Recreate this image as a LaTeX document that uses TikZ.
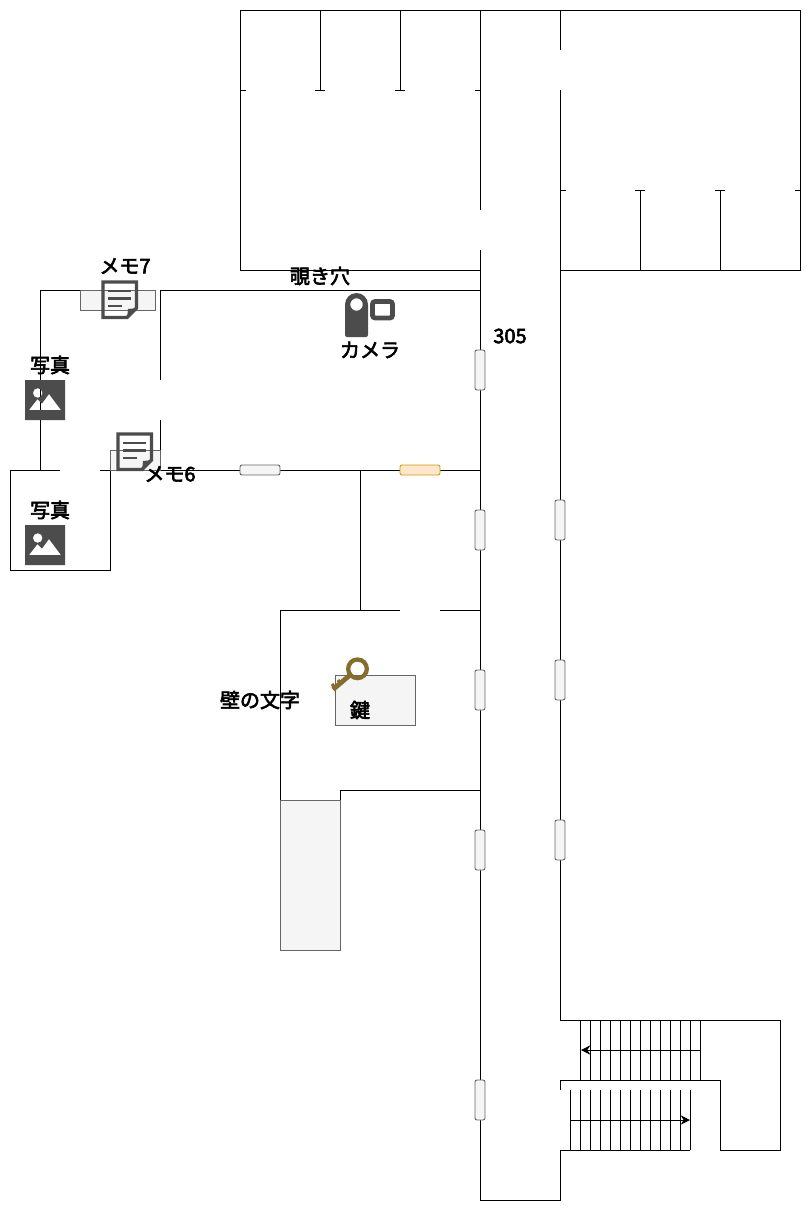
\documentclass[tikz,border=0pt]{standalone}
\usepackage{fontspec}
\usetikzlibrary{arrows.meta}
\newfontfamily\jpfont[FakeBold=3]{Noto Sans CJK JP}
\definecolor{keybrown}{HTML}{866C2D}
\definecolor{doororange}{HTML}{FFE6CC}
\definecolor{doorline}{HTML}{D79B00}
\tikzset{
    wall/.style={black, line width=0.75pt},
    stairarrow/.style={wall, -{Stealth[length=7pt, width=7pt]}},
    graybox/.style={draw=black!60, fill=black!4, line width=0.7pt},
    doorbox/.style={draw=black!60, fill=black!4, line width=0.7pt, rounded corners=1.5pt},
    icondark/.style={fill=black!70},
    memoline/.style={draw=black!70, line width=1.9pt},
    label/.style={inner sep=0pt, font=\jpfont\fontsize{15}{15}\selectfont},
}
\begin{document}
\begin{tikzpicture}[x=0.75pt, y=-0.75pt]
    \useasboundingbox (0,0) rectangle (811,1211);

    % upper block
    \draw[wall] (240,270) -- (240,10) -- (800,10) -- (800,270) -- (560,270);
    \draw[wall] (240,270) -- (480,270);
    \draw[wall] (320,10) -- (320,90);
    \draw[wall] (400,10) -- (400,90);
    \draw[wall] (240,90) -- (246,90);
    \draw[wall] (315,90) -- (325,90);
    \draw[wall] (395,90) -- (405,90);
    \draw[wall] (475,90) -- (480,90);
    \draw[wall] (640,190) -- (640,270);
    \draw[wall] (720,190) -- (720,270);
    \draw[wall] (560,190) -- (566,190);
    \draw[wall] (635,190) -- (645,190);
    \draw[wall] (715,190) -- (725,190);
    \draw[wall] (795,190) -- (800,190);

    % corridor
    \draw[wall] (480,10) -- (480,210);
    \draw[wall] (480,250) -- (480,1200) -- (560,1200) -- (560,1150);
    \draw[wall] (560,10) -- (560,50);
    \draw[wall] (560,90) -- (560,1020);

    % rooms on the left
    \draw[wall] (480,290) -- (160,290);
    \draw[wall] (80,290) -- (40,290) -- (40,470);
    \draw[wall] (160,290) -- (160,380);
    \draw[wall] (160,420) -- (160,470);
    \draw[wall] (480,470) -- (100,470);
    \draw[wall] (60,470) -- (10,470) -- (10,570) -- (110,570) -- (110,470);
    \draw[wall] (360,470) -- (360,610);
    \draw[wall] (400,610) -- (280,610) -- (280,800);
    \draw[wall] (440,610) -- (480,610);
    \draw[wall] (480,790) -- (340,790) -- (340,800);

    % stairs
    \draw[wall] (560,1020) -- (780,1020) -- (780,1150) -- (720,1150) -- (720,1080) -- (560,1080) -- (560,1090);
    \draw[wall] (560,1150) -- (690,1150);
    \draw[wall] (580,1020) -- (580,1080);
    \draw[wall] (590,1020) -- (590,1080);
    \draw[wall] (600,1020) -- (600,1080);
    \draw[wall] (610,1020) -- (610,1080);
    \draw[wall] (620,1020) -- (620,1080);
    \draw[wall] (630,1020) -- (630,1080);
    \draw[wall] (640,1020) -- (640,1080);
    \draw[wall] (650,1020) -- (650,1080);
    \draw[wall] (660,1020) -- (660,1080);
    \draw[wall] (670,1020) -- (670,1080);
    \draw[wall] (680,1020) -- (680,1080);
    \draw[wall] (690,1020) -- (690,1080);
    \draw[wall] (700,1020) -- (700,1080);
    \draw[wall] (570,1090) -- (570,1150);
    \draw[wall] (580,1090) -- (580,1150);
    \draw[wall] (590,1090) -- (590,1150);
    \draw[wall] (600,1090) -- (600,1150);
    \draw[wall] (610,1090) -- (610,1150);
    \draw[wall] (620,1090) -- (620,1150);
    \draw[wall] (630,1090) -- (630,1150);
    \draw[wall] (640,1090) -- (640,1150);
    \draw[wall] (650,1090) -- (650,1150);
    \draw[wall] (660,1090) -- (660,1150);
    \draw[wall] (670,1090) -- (670,1150);
    \draw[wall] (680,1090) -- (680,1150);
    \draw[wall] (690,1090) -- (690,1150);
    \draw[stairarrow] (700,1050) -- (581,1050);
    \draw[stairarrow] (570,1120) -- (690,1120);

    % furniture
    \draw[graybox] (80,290) rectangle (155,310);
    \draw[graybox] (110,450) rectangle (160,470);
    \draw[graybox] (335,675) rectangle (415,725);
    \draw[graybox] (280,800) rectangle (340,950);

    % doors
    \draw[doorbox] (475,350) rectangle (485,390);
    \draw[doorbox] (475,510) rectangle (485,550);
    \draw[doorbox] (475,670) rectangle (485,710);
    \draw[doorbox] (475,830) rectangle (485,870);
    \draw[doorbox] (475,1080) rectangle (485,1120);
    \draw[doorbox] (555,500) rectangle (565,540);
    \draw[doorbox] (555,660) rectangle (565,700);
    \draw[doorbox] (555,820) rectangle (565,860);
    \draw[doorbox] (240,465) rectangle (280,475);
    \draw[doorbox, draw=doorline, fill=doororange] (400,465) rectangle (440,475);

    % memo icons
    \draw[black!70, line width=2.6pt, line join=miter] (103,282) -- (136.5,282) -- (136.5,308) -- (127,317.5) -- (103,317.5) -- cycle;
    \fill[icondark] (138,308) -- (128,309) -- (127,319) -- cycle;
    \draw[memoline] (108,291) -- (131,291);
    \draw[memoline] (108,298.5) -- (131,298.5);
    \draw[memoline] (108,306) -- (122,306);
    \draw[black!70, line width=2.6pt, line join=miter] (118,434) -- (151.5,434) -- (151.5,460) -- (142,469.5) -- (118,469.5) -- cycle;
    \fill[icondark] (153,460) -- (143,461) -- (142,471) -- cycle;
    \draw[memoline] (123,443) -- (146,443);
    \draw[memoline] (123,450.5) -- (146,450.5);
    \draw[memoline] (123,458) -- (137,458);

    % photo icons
    \fill[icondark, even odd rule] (25,380) rectangle (65,420) (37.7,393) circle (3.6pt)
        (29,410) -- (37.5,399) -- (42,403.5) -- (49,394) -- (61,410) -- cycle;
    \fill[icondark, even odd rule] (25,525) rectangle (65,565) (37.7,538) circle (3.6pt)
        (29,555) -- (37.5,544) -- (42,548.5) -- (49,539) -- (61,555) -- cycle;

    % camera
    \fill[icondark, even odd rule] [rounded corners=1.5pt] (345,337) [rounded corners=8.6pt] -- (345,293) -- (368,293) [rounded corners=1.5pt] -- (368,337) -- cycle
        (356.5,304.5) circle (4.7pt);
    \draw[black!70, line width=3.6pt, rounded corners=2pt] (372.5,301.5) rectangle (392.5,318);

    % key
    \draw[keybrown, line width=3.2pt] (357.5,668.8) circle (7pt);
    \draw[keybrown, line width=3.6pt] (349.5,675.5) -- (333,689.5);
    \draw[keybrown, line width=2.4pt] (341,684) -- (338,680);
    \draw[keybrown, line width=2.4pt] (335.5,688.5) -- (332,684);

    % labels
    \node[label] (memoseven) at (125,266) {メモ7};
    \node[label] (photoupper) at (50,365) {写真};
    \node[label] (photolower) at (50,510) {写真};
    \node[label] (memosix) at (170,474) {メモ6};
    \node[label] (peephole) at (320,276) {覗き穴};
    \node[label] (camera) at (370,350) {カメラ};
    \node[label] (corridor) at (510,336) {305};
    \node[label] (walltext) at (260,700) {壁の文字};
    \node[label] (keytext) at (360,710) {鍵};
\end{tikzpicture}
\end{document}
